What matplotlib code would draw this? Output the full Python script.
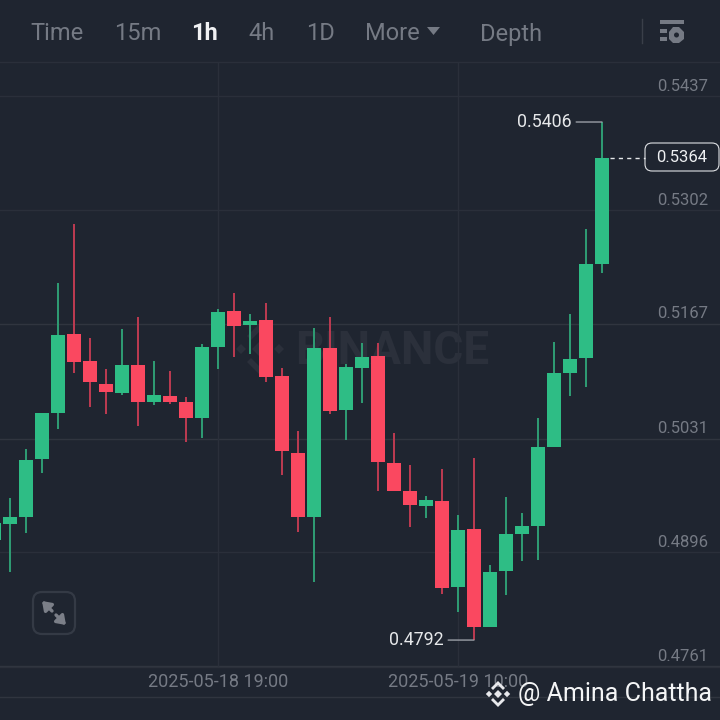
#!/usr/bin/env python3
"""Binance style 1h candlestick chart."""

import matplotlib

matplotlib.use("Agg")
import matplotlib.pyplot as plt
from matplotlib.patches import FancyBboxPatch, Polygon, Rectangle

plt.rcParams["font.family"] = ["Roboto", "DejaVu Sans"]

BG = "#1f2530"
GRID = "#30353f"
GRID_FAINT = "#2a2f3a"
MUTED = "#757a84"
GREEN = "#2ebd85"
RED = "#fa4860"
GREEN_WICK = "#2e9a72"
RED_WICK = "#b93a50"
MARK = "#2b303b"

# candles, oldest first, the first one is cut by the left edge
opens = [0.49107, 0.49296, 0.49379, 0.50067, 0.50613, 0.51550, 0.51230, 0.50957,
         0.50850, 0.51182, 0.50743, 0.50814, 0.50743, 0.50554, 0.51396, 0.51823,
         0.51656, 0.51716, 0.51052, 0.50138, 0.49379, 0.51384, 0.50648, 0.51147,
         0.51289, 0.50020, 0.49688, 0.49510, 0.49569, 0.48549, 0.49237, 0.48075,
         0.48739, 0.49178, 0.49273, 0.50210, 0.51087, 0.51265, 0.52380]
highs = [0.49462, 0.49605, 0.50186, 0.50613, 0.52155, 0.52854, 0.51502, 0.51135,
         0.51609, 0.51751, 0.51230, 0.51111, 0.50803, 0.51431, 0.51846, 0.52036,
         0.51787, 0.51917, 0.51147, 0.50399, 0.51621, 0.51751, 0.51194, 0.51443,
         0.51443, 0.50376, 0.49996, 0.49628, 0.49949, 0.49403, 0.50079, 0.48810,
         0.49617, 0.49427, 0.50554, 0.51455, 0.51787, 0.52795, 0.54064]
lows = [0.49047, 0.48727, 0.49190, 0.49901, 0.50423, 0.51087, 0.50684, 0.50601,
        0.50826, 0.50459, 0.50708, 0.50720, 0.50269, 0.50316, 0.51135, 0.51277,
        0.51313, 0.50980, 0.49877, 0.49201, 0.48608, 0.50601, 0.50293, 0.50731,
        0.49688, 0.49688, 0.49261, 0.49368, 0.48466, 0.48253, 0.47920, 0.48075,
        0.48454, 0.48858, 0.48869, 0.50210, 0.50814, 0.50921, 0.52273]
closes = [0.49308, 0.49379, 0.50055, 0.50613, 0.51538, 0.51218, 0.50980, 0.50862,
          0.51182, 0.50743, 0.50826, 0.50743, 0.50554, 0.51396, 0.51811, 0.51645,
          0.51704, 0.51040, 0.50162, 0.49379, 0.51384, 0.50637, 0.51158, 0.51277,
          0.50032, 0.49688, 0.49522, 0.49581, 0.48537, 0.49225, 0.48075, 0.48727,
          0.49178, 0.49273, 0.50210, 0.51087, 0.51253, 0.52380, 0.53637]

price_ticks = [0.5437, 0.5302, 0.5167, 0.5031, 0.4896, 0.4761]
faint_ticks = [0.5437, 0.5302, 0.4896]
date_index = [14, 29]
date_labels = ["2025-05-18 19:00", "2025-05-19 10:00"]
tabs = ["Time", "15m", "1h", "4h", "1D", "More", "Depth"]
tab_left = [30, 114, 191, 248, 306, 365, 480]

high_label = "0.5406"
low_label = "0.4792"
last_label = "0.5364"
last_price = 0.5364

fig = plt.figure(figsize=(7.2, 7.2), dpi=100, facecolor=BG)

# pixel space for the app chrome
ui = fig.add_axes([0, 0, 1, 1], zorder=1)
ui.set_xlim(0, 720)
ui.set_ylim(720, 0)
ui.axis("off")

# chart space, scaled so that the grid lands where it does in the app
ax = fig.add_axes([0, 0, 1, 1], zorder=2)
ax.patch.set_alpha(0)
ax.set_xlim(0.375, 45.375)
ax.set_ylim(0.46972, 0.55511)
ax.axis("off")

PX = 72 / fig.dpi  # points per pixel

for p in price_ticks:
    ax.axhline(p, color=GRID_FAINT if p in faint_ticks else GRID, lw=1.0, zorder=1)
    ax.annotate(f"{p:.4f}", (1, p), xycoords=("axes fraction", "data"),
                xytext=(-12 * PX, 10 * PX), textcoords="offset points",
                ha="right", va="center", fontsize=12, color=MUTED, zorder=6)

ax.vlines(date_index, price_ticks[-1], 0.54776, color=GRID_FAINT, lw=1.0, zorder=1)
for i, label in zip(date_index, date_labels):
    ui.text(-6 + 16 * i, 682, label, ha="center", va="center", fontsize=13, color=MUTED)

# candles
for i, (o, h, l, c) in enumerate(zip(opens, highs, lows, closes)):
    up = c >= o
    ax.vlines(i, l, h, color=GREEN_WICK if up else RED_WICK, lw=2 * PX, zorder=3)
    ax.add_patch(Rectangle((i - 0.4375, min(o, c)), 0.875, abs(c - o),
                           facecolor=GREEN if up else RED, edgecolor="none", zorder=4))

# high and low callouts
last_i = len(closes) - 1
low_i = lows.index(min(lows))
for x, y, txt in [(last_i, max(highs), high_label), (low_i, min(lows), low_label)]:
    ax.annotate(txt, (x, y), xytext=(-30 * PX, 0), textcoords="offset points",
                ha="right", va="center", fontsize=12.8, color="#e6e8ea", zorder=7,
                arrowprops=dict(arrowstyle="-", color="#9a9ea6", lw=1.0, shrinkA=1, shrinkB=0))

# last price line and box
ax.plot([last_i + 0.5, 40.7], [last_price, last_price], color="#e6e8ea", lw=1.0,
        dashes=(3, 3), zorder=5)
ui.add_patch(FancyBboxPatch((650, 148), 64, 18, boxstyle="round,pad=5,rounding_size=7",
                            facecolor=BG, edgecolor="#dfe1e4", lw=0.8, zorder=8))
ui.text(682, 158, last_label, ha="center", va="center", fontsize=12, color="#eef0f2", zorder=9)

# top bar
ui.axhline(62, color=GRID_FAINT, lw=1.0)
for name, x in zip(tabs, tab_left):
    active = name == "1h"
    ui.text(x, 34, name, ha="left", va="center", fontsize=17,
            color="#f0f1f3" if active else MUTED, weight="bold" if active else "normal")
ui.add_patch(Polygon([(427, 27), (440, 27), (433.5, 35)], facecolor=MUTED, edgecolor="none"))
ui.plot([642, 642], [19, 43], color="#3a3f49", lw=1.0)

# settings icon
ui.add_patch(Rectangle((660, 20), 24, 4, facecolor=MUTED, edgecolor="none"))
ui.add_patch(Rectangle((660, 29), 7, 4, facecolor=MUTED, edgecolor="none"))
ui.add_patch(Rectangle((660, 37), 7, 4, facecolor=MUTED, edgecolor="none"))
ui.add_patch(Polygon([(673, 27), (679, 27), (684, 32), (684, 39), (679, 43), (673, 43),
                      (669, 39), (669, 32)], facecolor=MUTED, edgecolor="none"))
ui.add_patch(plt.Circle((676.5, 35), 2.5, facecolor=BG, edgecolor="none"))

# faint exchange watermark under the candles
ui.text(295, 351, "BINANCE", ha="left", va="center", fontsize=33, weight="bold", color=MARK)
for cx, cy, r in [(260, 349, 8), (241, 349, 5), (279, 349, 5)]:
    ui.add_patch(Polygon([(cx - r, cy), (cx, cy - r), (cx + r, cy), (cx, cy + r)],
                         facecolor=MARK, edgecolor="none"))
for sign in (-1, 1):
    ui.add_patch(Polygon([(247, 349 + sign * 13), (260, 349 + sign * 26), (273, 349 + sign * 13),
                          (269, 349 + sign * 9), (260, 349 + sign * 18), (251, 349 + sign * 9)],
                         facecolor=MARK, edgecolor="none"))

# expand button
ui.add_patch(FancyBboxPatch((39, 598), 30, 30, boxstyle="round,pad=6,rounding_size=9",
                            facecolor="none", edgecolor="#343a45", lw=1.6))
for tip, tail in [((42, 601), (52, 611)), ((66, 625), (56, 615))]:
    ui.annotate("", xy=tip, xytext=tail,
                arrowprops=dict(arrowstyle="-|>,head_width=0.35,head_length=0.5",
                                color="#7b7f88", lw=2.4, shrinkA=0, shrinkB=0))

# bottom bar and attribution
ui.axhline(666.5, color=GRID_FAINT, lw=1.0)
ui.axhline(697, color=GRID, lw=1.0)
for cx, cy, r in [(498, 694, 4), (489, 694, 3.2), (507, 694, 3.2)]:
    ui.add_patch(Polygon([(cx - r, cy), (cx, cy - r), (cx + r, cy), (cx, cy + r)],
                         facecolor="#e8e9ec", edgecolor="none", zorder=10))
for sign in (-1, 1):
    ui.add_patch(Polygon([(491, 694 + sign * 6), (498, 694 + sign * 13), (505, 694 + sign * 6),
                          (503, 694 + sign * 4), (498, 694 + sign * 9), (493, 694 + sign * 4)],
                         facecolor="#e8e9ec", edgecolor="none", zorder=10))
ui.text(518, 694, "@ Amina Chattha", ha="left", va="center", fontsize=18,
        color="#f4f5f6", zorder=10)

fig.savefig("out.png", dpi=100, facecolor=BG)
plt.close(fig)
